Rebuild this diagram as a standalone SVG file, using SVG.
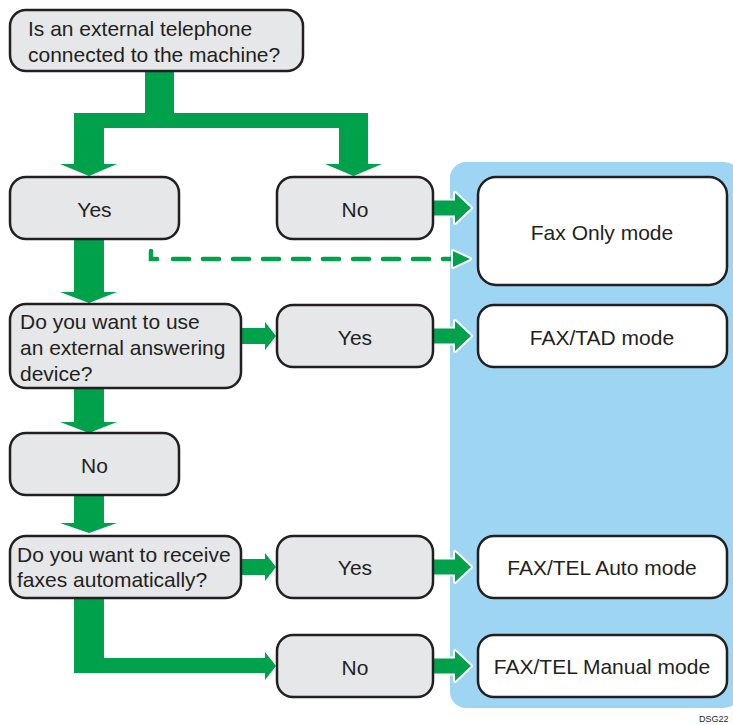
<svg xmlns="http://www.w3.org/2000/svg" width="733" height="725" viewBox="0 0 733 725">
<style>
.q{fill:#E6E7E8;stroke:#231F20;stroke-width:2.5}
.m{fill:#FFFFFF;stroke:#231F20;stroke-width:2.5}
.t{font-family:"Liberation Sans",Arial,sans-serif;font-size:21px;fill:#231F20}
.c{text-anchor:middle}
.g{fill:#00A14B}
.gw{fill:#00A14B;stroke:#FFFFFF;stroke-width:4;stroke-linejoin:round;paint-order:stroke}
</style>
<rect id="panel" x="450" y="162" width="290" height="546" rx="16" fill="#9DD5F2"/>
<g id="connectors">
<polygon class="g" points="145,70 174,70 174,113 368,113 368,164 382,164 353.5,176 325,164 339,164 339,128 104,128 104,164 117,164 89,176 60,164 74,164 74,113 145,113"/>
<polygon class="g" points="74,238 104,238 104,292 117,292 89,303 60,292 74,292"/>
<polygon class="g" points="74,386 104,386 104,422 117,422 89,433 60,422 74,422"/>
<polygon class="g" points="74,494 104,494 104,523 117,523 89,533 60,523 74,523"/>
<polygon class="g" points="74,597 104,597 104,658 265,658 265,652 276,666 265,680 265,673 74,673"/>
<polygon class="g" points="240,328 265,328 265,322 276,336 265,350 265,344 240,344"/>
<polygon class="g" points="240,559 265,559 265,553 276,567 265,581 265,575 240,575"/>
<polygon class="gw" points="432,200.5 455,200.5 455,193 471,208 455,223 455,215.5 432,215.5"/>
<polygon class="gw" points="432,328.5 455,328.5 455,321 471,336 455,351 455,343.5 432,343.5"/>
<polygon class="gw" points="432,559.5 455,559.5 455,552 471,567 455,582 455,574.5 432,574.5"/>
<polygon class="gw" points="432,658.5 455,658.5 455,651 471,666 455,681 455,673.5 432,673.5"/>
<path d="M151,251 L151,259 L157,259" fill="none" stroke="#00A14B" stroke-width="4.5" stroke-linecap="round"/>
<path d="M173,259 L452,259" fill="none" stroke="#00A14B" stroke-width="4.5" stroke-linecap="round" stroke-dasharray="16 14"/>
<polygon class="gw" points="453,251 470,259 453,267"/>
</g>
<g id="n_top"><rect class="q" x="10" y="10" width="293" height="61" rx="16"/>
<text class="t" x="28" y="36">Is an external telephone</text>
<text class="t" x="28" y="62">connected to the machine?</text></g>
<g id="n_yes1"><rect class="q" x="10" y="177" width="169" height="62" rx="16"/>
<text class="t c" x="94.5" y="217">Yes</text></g>
<g id="n_no1"><rect class="q" x="277" y="177" width="156" height="62" rx="16"/>
<text class="t c" x="355" y="217">No</text></g>
<g id="n_faxonly"><rect class="m" x="478" y="177" width="249" height="108" rx="18"/>
<text class="t c" x="602" y="240">Fax Only mode</text></g>
<g id="n_q2"><rect class="q" x="10" y="304" width="231" height="84" rx="16"/>
<text class="t" x="20" y="329">Do you want to use</text>
<text class="t" x="20" y="355">an external answering</text>
<text class="t" x="20" y="381">device?</text></g>
<g id="n_yes2"><rect class="q" x="277" y="305" width="156" height="62" rx="16"/>
<text class="t c" x="355" y="345">Yes</text></g>
<g id="n_tad"><rect class="m" x="478" y="305" width="249" height="62" rx="16"/>
<text class="t c" x="602" y="345">FAX/TAD mode</text></g>
<g id="n_no3"><rect class="q" x="10" y="433" width="169" height="62" rx="16"/>
<text class="t c" x="94.5" y="473">No</text></g>
<g id="n_q3"><rect class="q" x="10" y="536" width="231" height="62" rx="16"/>
<text class="t" x="17" y="562">Do you want to receive</text>
<text class="t" x="17" y="587">faxes automatically?</text></g>
<g id="n_yes3"><rect class="q" x="277" y="536" width="156" height="62" rx="16"/>
<text class="t c" x="355" y="575">Yes</text></g>
<g id="n_auto"><rect class="m" x="478" y="536" width="249" height="62" rx="16"/>
<text class="t c" x="602" y="575">FAX/TEL Auto mode</text></g>
<g id="n_no4"><rect class="q" x="277" y="635" width="156" height="62" rx="16"/>
<text class="t c" x="355" y="675">No</text></g>
<g id="n_manual"><rect class="m" x="478" y="635" width="249" height="62" rx="16"/>
<text class="t c" x="602" y="674">FAX/TEL Manual mode</text></g>
<text x="699" y="722" font-family="'Liberation Sans',Arial,sans-serif" font-size="9" fill="#231F20">DSG22</text>
</svg>
